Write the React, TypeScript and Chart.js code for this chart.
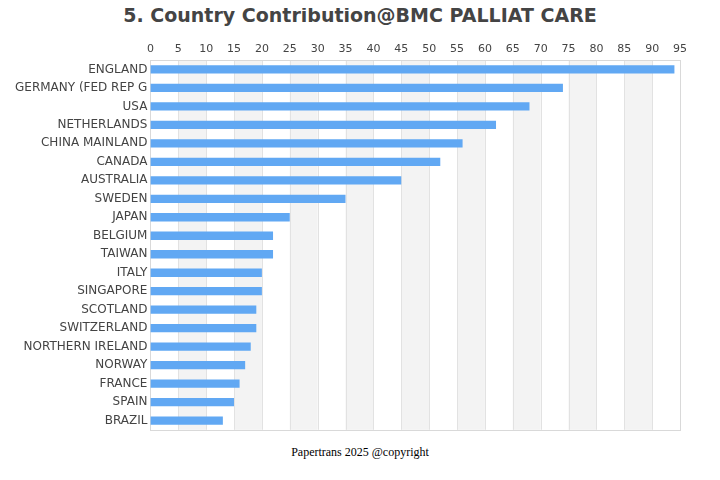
import React, { useEffect, useRef } from "react";
import { Chart, registerables } from "chart.js";

Chart.register(...registerables);

const titleText = "5. Country Contribution@BMC PALLIAT CARE";
const footerText = "Papertrans 2025 @copyright";
const countries = [
  "ENGLAND",
  "GERMANY (FED REP G",
  "USA",
  "NETHERLANDS",
  "CHINA MAINLAND",
  "CANADA",
  "AUSTRALIA",
  "SWEDEN",
  "JAPAN",
  "BELGIUM",
  "TAIWAN",
  "ITALY",
  "SINGAPORE",
  "SCOTLAND",
  "SWITZERLAND",
  "NORTHERN IRELAND",
  "NORWAY",
  "FRANCE",
  "SPAIN",
  "BRAZIL",
];
const counts = [94, 74, 68, 62, 56, 52, 45, 35, 25, 22, 22, 20, 20, 19, 19, 18, 17, 16, 15, 13];
const axisMin = 0;
const axisMax = 95;
const axisStep = 5;

const bandPlugin = {
  id: "bands",
  beforeDatasetsDraw(chart: any) {
    const { ctx, chartArea, scales } = chart;
    const x = scales.x;
    ctx.save();
    ctx.fillStyle = "#f3f3f3";
    for (let v = axisMin + axisStep; v < axisMax; v += axisStep * 2) {
      const x0 = x.getPixelForValue(v);
      const x1 = x.getPixelForValue(Math.min(v + axisStep, axisMax));
      ctx.fillRect(x0, chartArea.top, x1 - x0, chartArea.bottom - chartArea.top);
    }
    ctx.strokeStyle = "#e2e2e2";
    ctx.lineWidth = 1;
    for (let v = axisMin + axisStep; v < axisMax; v += axisStep) {
      const px = Math.round(x.getPixelForValue(v)) + 0.5;
      ctx.beginPath();
      ctx.moveTo(px, chartArea.top);
      ctx.lineTo(px, chartArea.bottom);
      ctx.stroke();
    }
    ctx.strokeStyle = "#d9d9d9";
    ctx.strokeRect(
      Math.round(chartArea.left) + 0.5,
      Math.round(chartArea.top) + 0.5,
      Math.round(chartArea.right - chartArea.left),
      Math.round(chartArea.bottom - chartArea.top)
    );
    ctx.restore();
  },
};

export default function App() {
  const ref = useRef<HTMLCanvasElement>(null);
  useEffect(() => {
    if (!ref.current) return;
    const chart = new Chart(ref.current, {
      type: "bar",
      data: {
        labels: countries,
        datasets: [
          {
            data: counts,
            backgroundColor: "#61a8f3",
            borderWidth: 0,
            barPercentage: 0.45,
            categoryPercentage: 1,
          },
        ],
      },
      options: {
        indexAxis: "y",
        animation: false,
        responsive: true,
        maintainAspectRatio: false,
        layout: { padding: { left: 4, right: 32, top: 3, bottom: 4 } },
        plugins: {
          legend: { display: false },
          tooltip: { enabled: false },
          title: { display: false },
        },
        scales: {
          x: {
            position: "top",
            min: axisMin,
            max: axisMax,
            ticks: {
              stepSize: axisStep,
              color: "#444444",
              font: { family: "DejaVu Sans", size: 11 },
              padding: 4,
            },
            grid: { display: false, drawTicks: false },
            border: { display: false },
          },
          y: {
            ticks: {
              color: "#444444",
              font: { family: "DejaVu Sans", size: 12 },
              padding: 3,
              autoSkip: false,
            },
            grid: { display: false, drawTicks: false },
            border: { display: false },
          },
        },
      },
      plugins: [bandPlugin],
    });
    return () => chart.destroy();
  }, []);
  return (
    <div style={{ position: "relative", margin: "-8px", width: "720px", height: "480px", overflow: "hidden" }}>
      <div
        style={{
          position: "absolute",
          top: "2px",
          left: "0px",
          width: "720px",
          height: "26px",
          lineHeight: "26px",
          textAlign: "center",
          fontFamily: "DejaVu Sans, sans-serif",
          fontWeight: "bold",
          fontSize: "19px",
          color: "#444444",
          whiteSpace: "nowrap",
        }}
      >
        {titleText}
      </div>
      <div style={{ position: "absolute", top: "36px", left: "8px", width: "704px", height: "404px" }}>
        <canvas ref={ref} />
      </div>
      <div
        style={{
          position: "absolute",
          top: "444px",
          left: "0px",
          width: "720px",
          height: "16px",
          lineHeight: "16px",
          textAlign: "center",
          fontSize: "12px",
          fontFamily: "Liberation Serif, serif",
          color: "#000",
        }}
      >
        {footerText}
      </div>
    </div>
  );
}
